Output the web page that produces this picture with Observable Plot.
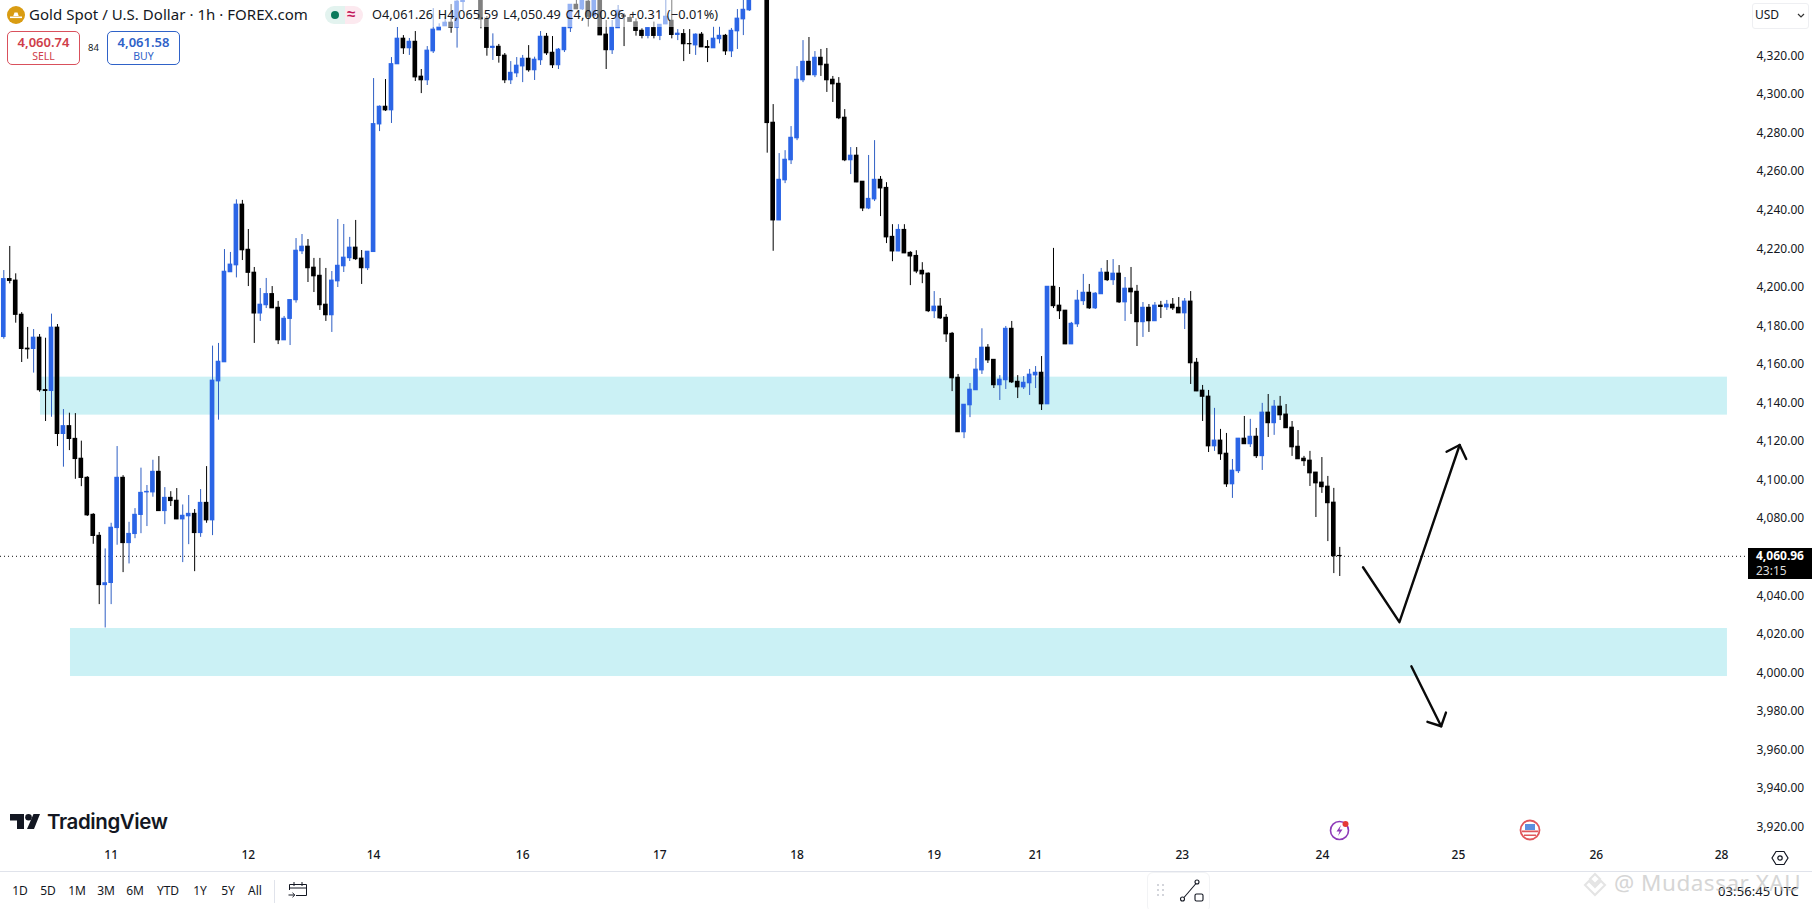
<!DOCTYPE html>
<html><head><meta charset="utf-8">
<script src="https://cdn.jsdelivr.net/npm/d3@7"></script>
<script src="https://cdn.jsdelivr.net/npm/@observablehq/plot@0.6"></script>
<style>
html,body{margin:0;padding:0;background:#fff}
#wrap{position:relative;width:1812px;height:909px;overflow:hidden;font-family:"Noto Sans",sans-serif;color:#131722}
#wrap svg.plot{display:block}
.a{position:absolute;white-space:nowrap;line-height:1}
.c{transform:translateX(-50%)}
</style></head><body><div id="wrap"></div>
<script>
const open = [
4174.6,4204.9,4204.1,4186.4,4168.8,4168.4,4174.5,4147.3,4146.6,4179.7,
4124.3,4128.6,4122.0,4111.7,4101.8,4082.6,4071.7,4045.9,4047.0,4075.5,
4101.8,4067.7,4072.4,4082.3,4094.0,4094.0,4104.9,4084.3,4091.4,4089.9,
4080.0,4081.6,4083.1,4072.9,4088.8,4079.5,4151.6,4161.5,4208.2,4211.8,
4243.5,4220.1,4208.2,4186.8,4191.1,4197.1,4190.0,4172.9,4184.0,4193.7,
4219.1,4221.7,4210.8,4206.6,4191.6,4185.9,4203.5,4211.3,4215.5,4221.2,
4215.5,4210.3,4218.7,4284.9,4294.3,4292.2,4316.1,4329.6,4324.4,4328.0,
4309.9,4307.8,4322.8,4333.7,4335.8,4337.9,4335.1,4348.4,4352.8,4356.0,
4354.0,4339.3,4324.6,4325.4,4320.8,4307.8,4311.4,4315.0,4319.2,4313.0,
4318.2,4330.6,4322.3,4315.6,4323.4,4334.8,4347.2,4344.6,4348.8,4341.0,
4352.0,4331.7,4323.4,4334.8,4341.5,4340.3,4338.1,4333.7,4330.8,4335.1,
4330.8,4336.8,4338.9,4331.3,4332.0,4326.8,4325.9,4331.7,4325.3,4324.4,
4329.1,4331.1,4322.8,4333.2,4339.4,4344.1,4354.5,4358.0,4356.0,4286.0,
4235.1,4255.9,4266.3,4277.7,4307.8,4317.6,4310.4,4319.7,4316.1,4308.3,
4306.2,4288.6,4266.3,4268.9,4255.4,4241.3,4246.0,4256.4,4252.2,4226.8,
4219.0,4230.4,4218.5,4216.9,4209.2,4207.7,4188.0,4190.6,4184.8,4176.5,
4153.7,4125.2,4139.2,4147.0,4157.3,4169.3,4163.0,4149.6,4152.2,4179.1,
4151.6,4148.5,4150.6,4154.7,4156.3,4139.7,4200.9,4191.1,4188.5,4170.8,
4181.2,4193.2,4197.8,4189.5,4196.8,4208.2,4204.1,4207.7,4192.6,4199.9,
4198.3,4182.3,4190.0,4182.8,4191.1,4190.0,4191.6,4190.0,4186.9,4193.2,
4161.5,4147.0,4143.9,4117.9,4121.1,4114.3,4098.2,4105.0,4122.1,4119.0,
4123.1,4112.8,4135.6,4129.9,4138.7,4134.6,4127.8,4117.9,4111.7,4110.7,
4104.5,4099.3,4097.2,4088.9,4061.26];
const high = [
4209.2,4221.7,4207.5,4187.4,4179.7,4178.6,4176.0,4174.1,4186.6,4181.2,
4137.1,4135.2,4135.0,4120.7,4102.3,4083.1,4073.3,4064.8,4078.1,4117.9,
4102.8,4078.6,4085.7,4106.7,4097.7,4110.8,4112.7,4096.6,4094.5,4096.1,
4087.6,4092.5,4085.2,4095.6,4107.5,4170.0,4171.4,4220.1,4218.6,4245.9,
4245.6,4230.5,4210.8,4199.9,4205.1,4200.9,4193.2,4185.4,4194.0,4225.8,
4227.9,4225.3,4215.5,4215.5,4210.3,4208.7,4235.7,4233.1,4226.4,4235.2,
4219.6,4219.1,4308.8,4294.6,4308.3,4319.7,4335.3,4331.1,4329.6,4333.2,
4313.5,4325.4,4345.1,4337.2,4340.7,4347.2,4352.0,4354.5,4360.0,4362.0,
4356.0,4341.0,4332.0,4326.5,4321.8,4317.6,4319.7,4320.8,4325.9,4319.9,
4333.2,4332.2,4330.6,4324.4,4335.3,4347.2,4351.0,4352.0,4352.0,4353.0,
4354.0,4338.9,4338.9,4346.7,4342.4,4341.5,4339.8,4334.6,4335.1,4338.1,
4336.8,4351.0,4350.0,4334.2,4334.2,4334.2,4332.0,4332.7,4328.5,4335.5,
4335.5,4331.7,4334.8,4344.6,4350.0,4357.0,4362.0,4364.0,4358.0,4295.3,
4269.9,4271.4,4283.9,4315.0,4328.5,4330.1,4322.8,4323.9,4324.4,4309.9,
4309.3,4292.7,4273.0,4273.0,4255.4,4268.9,4276.6,4258.0,4254.8,4233.0,
4233.0,4233.0,4219.0,4219.5,4213.3,4208.0,4198.3,4194.7,4186.4,4177.1,
4155.3,4139.7,4150.6,4163.6,4179.0,4170.8,4163.0,4154.7,4180.2,4182.8,
4154.7,4154.2,4157.9,4159.4,4164.6,4200.9,4220.7,4200.4,4188.5,4182.3,
4198.9,4207.2,4202.0,4197.8,4210.3,4214.4,4214.9,4211.8,4205.6,4210.8,
4201.5,4192.6,4191.6,4192.6,4193.2,4193.7,4194.7,4195.2,4194.7,4198.3,
4163.6,4149.6,4147.0,4137.7,4126.8,4124.7,4111.2,4122.1,4133.5,4132.0,
4127.3,4140.3,4144.9,4141.8,4143.9,4139.7,4130.9,4126.2,4112.8,4115.4,
4104.5,4112.2,4102.4,4096.2,4065.59];
const low = [
4173.6,4202.3,4181.9,4161.5,4163.2,4156.0,4146.1,4130.9,4133.1,4117.9,
4107.2,4115.8,4100.9,4097.1,4081.6,4067.2,4035.9,4023.8,4035.9,4066.7,
4052.5,4057.0,4070.1,4072.7,4076.4,4091.6,4084.3,4077.4,4086.8,4080.0,
4057.7,4067.0,4053.0,4070.8,4078.1,4071.7,4131.6,4161.5,4208.2,4205.4,
4214.4,4200.9,4171.4,4182.8,4189.5,4189.5,4170.8,4172.9,4170.3,4192.3,
4217.5,4203.0,4197.8,4188.5,4182.8,4177.1,4200.4,4208.2,4213.9,4214.4,
4202.0,4209.2,4218.7,4281.3,4291.7,4285.5,4316.1,4321.3,4320.8,4307.3,
4301.0,4305.2,4321.8,4333.7,4335.8,4332.3,4324.6,4344.1,4350.2,4351.0,
4334.6,4320.4,4318.2,4316.8,4306.2,4305.7,4309.3,4306.7,4312.1,4307.8,
4315.6,4320.8,4314.0,4313.5,4322.3,4332.7,4344.6,4344.1,4335.5,4340.7,
4331.1,4313.5,4321.3,4334.8,4325.4,4338.1,4330.8,4329.4,4329.4,4329.4,
4328.5,4336.8,4329.4,4328.5,4317.6,4321.3,4320.8,4324.9,4317.1,4324.4,
4326.8,4320.8,4319.7,4323.9,4331.1,4343.6,4352.0,4352.0,4270.1,4219.2,
4235.1,4254.3,4264.2,4276.6,4306.7,4310.4,4309.3,4309.9,4301.6,4296.4,
4287.5,4265.7,4259.0,4254.8,4239.8,4240.8,4245.0,4237.2,4223.2,4213.8,
4219.0,4218.0,4201.4,4207.6,4202.4,4187.4,4184.3,4183.8,4171.9,4146.4,
4125.2,4122.0,4132.9,4147.0,4155.3,4161.0,4148.0,4141.8,4147.5,4150.6,
4142.8,4147.5,4144.4,4148.0,4136.6,4139.7,4189.5,4183.8,4170.8,4170.8,
4179.7,4191.1,4189.0,4189.0,4196.8,4203.5,4201.5,4192.1,4182.8,4186.4,
4169.8,4174.5,4177.1,4182.8,4184.3,4188.5,4188.5,4186.9,4178.6,4150.1,
4146.4,4130.9,4114.8,4115.4,4110.7,4096.7,4091.0,4103.9,4119.0,4117.4,
4111.7,4105.5,4122.6,4123.7,4131.4,4127.3,4112.8,4111.2,4107.6,4097.2,
4081.1,4093.6,4068.6,4052.0,4050.49];
const close = [
4204.9,4203.7,4186.1,4168.4,4168.2,4174.5,4147.0,4146.6,4179.7,4124.3,
4128.6,4121.7,4111.3,4101.5,4082.1,4071.4,4045.9,4047.1,4075.9,4101.8,
4067.7,4072.7,4082.6,4094.0,4094.5,4104.9,4084.3,4091.4,4089.5,4080.0,
4082.1,4083.1,4072.9,4088.8,4079.5,4152.2,4162.0,4208.7,4212.4,4243.5,
4219.6,4207.9,4186.8,4191.6,4197.1,4189.5,4172.9,4184.3,4194.0,4219.6,
4221.7,4210.3,4206.1,4191.1,4185.9,4204.1,4211.8,4216.0,4221.2,4215.0,
4210.3,4219.1,4285.3,4294.3,4292.2,4316.4,4329.6,4324.4,4328.0,4309.3,
4307.8,4323.4,4334.3,4335.5,4337.9,4335.1,4348.8,4352.8,4356.0,4354.0,
4339.3,4324.6,4325.4,4320.4,4307.8,4311.9,4315.6,4319.2,4313.0,4318.7,
4330.6,4321.8,4315.6,4323.9,4335.3,4347.2,4344.6,4350.0,4340.7,4350.0,
4331.1,4323.4,4335.3,4344.1,4340.7,4338.1,4333.4,4330.8,4335.1,4330.8,
4336.8,4341.0,4331.3,4332.2,4326.5,4326.5,4331.7,4324.9,4324.6,4329.6,
4331.1,4322.8,4333.7,4340.0,4344.6,4354.5,4358.0,4356.0,4285.6,4235.1,
4256.4,4266.8,4278.2,4308.3,4317.6,4310.4,4319.7,4315.6,4307.8,4305.7,
4288.1,4266.3,4268.9,4254.8,4241.3,4246.5,4256.4,4251.7,4226.3,4219.0,
4230.4,4218.0,4216.4,4208.6,4207.1,4188.0,4190.6,4184.3,4176.0,4153.2,
4125.2,4139.7,4147.5,4157.9,4169.3,4162.5,4149.6,4152.7,4179.1,4151.1,
4148.5,4151.1,4155.3,4156.3,4139.7,4200.9,4190.6,4188.0,4170.8,4181.7,
4193.7,4197.8,4189.5,4197.3,4208.2,4204.1,4207.7,4192.6,4199.9,4197.8,
4182.3,4190.0,4182.8,4191.1,4190.2,4191.6,4189.5,4186.9,4193.2,4161.0,
4146.4,4143.6,4117.9,4121.1,4113.8,4098.2,4105.5,4122.1,4119.0,4123.1,
4112.8,4135.6,4129.9,4138.7,4134.0,4127.3,4117.4,4111.2,4110.2,4103.9,
4098.7,4096.7,4088.4,4060.9,4060.96];
const priceTicks = [3920,3940,3960,3980,4000,4020,4040,4080,4100,4120,4140,4160,4180,4200,4220,4240,4260,4280,4300,4320];
const dateTickIndex = [18,41,62,87,110,133,156,173,197.6,221.1,243.9,267,288];
const dateTickLabels = ["11","12","14","16","17","18","19","21","23","24","25","26","28"];
const lastPrice = 4060.96;
const zoneBands = [
  {x1:6.15,x2:289,y1:4134.2,y2:4153.9},
  {x1:11.18,x2:289,y1:3998.6,y2:4023.5}
];
const arrowUp = [[227.9,4055.3],[234.0,4026.8],[244.1,4118.7]];
const arrowUpHead = [[241.9,4115.2],[244.1,4118.7],[245.2,4111.5]];
const arrowDown = [[236.0,4003.9],[241.0,3972.8]];
const arrowDownHead = [[238.7,3975.1],[241.0,3972.8],[241.8,3979.9]];

const rows = open.map((o,i)=>({i,o,h:high[i],l:low[i],c:close[i]}));
const UP="#2b65e6", UPW="#2f5fc4", DN="#000000";
const line = (pts,w)=>Plot.line(pts,{x:d=>d[0],y:d=>d[1],stroke:"#0a0a0a",strokeWidth:w,curve:"linear"});
const chart = Plot.plot({
  width:1812,height:909,marginTop:0,marginLeft:0,marginRight:60,marginBottom:62,
  style:{fontFamily:'"Noto Sans",sans-serif',background:"#fff",overflow:"visible"},
  x:{type:"linear",domain:[-0.553,293.2],axis:null},
  y:{type:"linear",domain:[3909.9,4349.3],axis:null},
  marks:[
    Plot.rect(zoneBands,{x1:"x1",x2:"x2",y1:"y1",y2:"y2",fill:"#cbf1f5"}),
    Plot.ruleY([lastPrice],{stroke:"#111",strokeDasharray:"1,3",strokeWidth:1}),
    Plot.ruleX(rows,{x:"i",y1:"l",y2:"h",stroke:d=>d.c>=d.o?UPW:DN,strokeWidth:1,clip:true}),
    Plot.rect(rows,{x1:d=>d.i-0.39,x2:d=>d.i+0.39,y1:d=>Math.min(d.o,d.c)-0.15,y2:d=>Math.max(d.o,d.c)+0.15,fill:d=>d.c>=d.o?UP:DN,clip:true}),
    line(arrowUp,2.4),line(arrowUpHead,2.4),line(arrowDown,2.4),line(arrowDownHead,2.4),
    Plot.axisY(priceTicks,{anchor:"right",tickSize:0,tickPadding:4,label:null,fontSize:12,fill:"#131722",dy:-1,tickFormat:d3.format(",.2f")}),
    Plot.axisX(dateTickIndex,{anchor:"bottom",tickSize:0,tickPadding:3,label:null,fontSize:12,fontWeight:500,fill:"#131722",tickFormat:(d,i)=>dateTickLabels[dateTickIndex.indexOf(d)]})
  ]
});
const wrap=document.getElementById("wrap");
wrap.appendChild(chart);
const html=`
<div class="a" style="left:370px;top:0;width:352px;height:27px;background:rgba(255,255,255,.5)"></div>
<svg class="a" style="left:7px;top:6px" width="18" height="18" viewBox="0 0 18 18"><circle cx="9" cy="9" r="9" fill="#d99c12"/><path d="M3 10.5h12v1.6H3z" fill="#fff"/><path d="M6.3 10l1.2-3.6h3l1.2 3.6z" fill="#fff"/></svg>
<div class="a" style="left:29px;top:7px;font-size:15px;letter-spacing:.04px">Gold Spot / U.S. Dollar · 1h · FOREX.com</div>
<div class="a" style="left:325px;top:6px;width:20px;height:18px;background:#e3f3ef;border-radius:9px 0 0 9px"></div>
<div class="a" style="left:345px;top:6px;width:18px;height:18px;background:#fce9ef;border-radius:0 9px 9px 0"></div>
<div class="a" style="left:331px;top:11px;width:8px;height:8px;background:#0b7a5c;border-radius:50%"></div>
<div class="a" style="left:347px;top:6px;font-size:15px;color:#c2185b;font-weight:700">≈</div>
<div class="a" style="left:372px;top:8px;font-size:12.7px;word-spacing:1.2px;letter-spacing:.1px">O4,061.26 H4,065.59 L4,050.49 C4,060.96 +0.31 (−0.01%)</div>
<div class="a" style="left:7px;top:31px;width:71px;height:32px;border:1px solid #d9505c;border-radius:5px;background:#fff;color:#cf3d4a;text-align:center">
  <div style="font-size:13px;font-weight:600;margin-top:4px">4,060.74</div><div style="font-size:10.5px;margin-top:2px">SELL</div></div>
<div class="a" style="left:88px;top:43px;font-size:9.5px">84</div>
<div class="a" style="left:107px;top:31px;width:71px;height:32px;border:1px solid #2f62c8;border-radius:5px;background:#fff;color:#2f62c8;text-align:center">
  <div style="font-size:13px;font-weight:600;margin-top:4px">4,061.58</div><div style="font-size:10.5px;margin-top:2px">BUY</div></div>
<div class="a" style="left:1752px;top:3px;width:55px;height:24px;border:1px solid #eeeff2;border-radius:3px"></div>
<div class="a" style="left:1755px;top:9px;font-size:12px">USD</div>
<svg class="a" style="left:1797px;top:13px" width="8" height="6"><path d="M1 1l3 3 3-3" fill="none" stroke="#333" stroke-width="1.2"/></svg>
<div class="a" style="left:1748px;top:548px;width:64px;height:31px;background:#000"></div>
<div class="a" style="left:1756px;top:550px;font-size:12px;font-weight:700;color:#fff">4,060.96</div>
<div class="a" style="left:1756px;top:565px;font-size:12px;color:#ddd">23:15</div>
<svg class="a" style="left:10px;top:814px" width="30" height="15" viewBox="0 0 30 15"><path d="M0 0h14v15H7V6.5H0z" fill="#131722"/><circle cx="18.5" cy="3.3" r="3.3" fill="#131722"/><path d="M23.5 0H30l-6 15h-7z" fill="#131722"/></svg>
<div class="a" style="left:47px;top:812px;font-size:20.5px;font-weight:600;font-family:Inter,sans-serif;letter-spacing:-.4px">TradingView</div>
<svg class="a" style="left:1329px;top:819px" width="22" height="22" viewBox="0 0 22 22"><circle cx="10.5" cy="11.5" r="9" fill="none" stroke="#8e3bb8" stroke-width="1.6"/><path d="M12 6l-4.5 6.5h3L9 17l4.5-6.5h-3z" fill="#8e3bb8"/><circle cx="16.5" cy="5" r="3" fill="#e53935"/></svg>
<svg class="a" style="left:1519px;top:819px" width="22" height="22" viewBox="0 0 22 22"><circle cx="11" cy="11" r="9.5" fill="#fff" stroke="#e0565b" stroke-width="1.8"/><path d="M3 11.5h16v1.8H3zM5 15.5h12v1.6H5z" fill="#e0565b"/><path d="M6 5h10v6H6z" fill="#5b8fe0"/></svg>
<svg class="a" style="left:1771px;top:849px" width="18" height="18" viewBox="0 0 18 18"><path d="M5 2.5h8L17 9l-4 6.5H5L1 9z" fill="none" stroke="#131722" stroke-width="1.2"/><circle cx="9" cy="9" r="2.2" fill="none" stroke="#131722" stroke-width="1.2"/></svg>
<div class="a" style="left:0;top:871px;width:1812px;height:1px;background:#e0e3eb"></div>
${[["1D",20],["5D",48],["1M",77],["3M",106],["6M",135],["YTD",168],["1Y",200],["5Y",228],["All",255]].map(d=>`<div class="a c" style="left:${d[1]}px;top:885px;font-size:12px">${d[0]}</div>`).join("")}
<div class="a" style="left:274px;top:880px;width:1px;height:23px;background:#e0e3eb"></div>
<svg class="a" style="left:288px;top:880px" width="20" height="20" viewBox="0 0 20 20"><path d="M1.5 10V4.5h17V15.5H8M1.5 8h17M6 2v4M14 2v4M0.5 15h6M4.5 12.8l2.3 2.2-2.3 2.2" fill="none" stroke="#131722" stroke-width="1"/></svg>
<div class="a" style="left:1147px;top:872px;width:63px;height:40px;background:#fff;border:1px solid #f2f3f5;border-radius:6px;box-sizing:border-box"></div>
<svg class="a" style="left:1156px;top:883px" width="9" height="18"><g fill="#c4c7cf"><circle cx="2" cy="2" r="1"/><circle cx="7" cy="2" r="1"/><circle cx="2" cy="7" r="1"/><circle cx="7" cy="7" r="1"/><circle cx="2" cy="12" r="1"/><circle cx="7" cy="12" r="1"/></g></svg>
<svg class="a" style="left:1179px;top:879px" width="26" height="24" viewBox="0 0 26 24"><g fill="none" stroke="#131722" stroke-width="1.1"><circle cx="3.5" cy="20" r="2"/><circle cx="18" cy="3" r="2"/><path d="M5 18.5L17 4.5"/><rect x="16" y="15" width="8" height="7" rx="1.5"/></g></svg>
<div class="a" style="left:1718px;top:885px;font-size:13px;letter-spacing:.1px">03:56:45 UTC</div>
<svg class="a" style="left:1582px;top:872px;opacity:.55" width="26" height="26" viewBox="0 0 26 26"><g fill="none" stroke="#cfcfcf" stroke-width="2"><path d="M13 2l5 5-5 5-5-5zM3 13l4-4 6 6 6-6 4 4-10 10z"/></g></svg>
<div class="a" style="left:1614px;top:872px;font-size:22.5px;color:#bdbdbd;opacity:.62;letter-spacing:.5px">@ Mudassar XAU</div>
`;
const o=document.createElement("div");o.style.cssText="position:absolute;left:0;top:0;width:1812px;height:909px";o.innerHTML=html;wrap.appendChild(o);
</script></body></html>
